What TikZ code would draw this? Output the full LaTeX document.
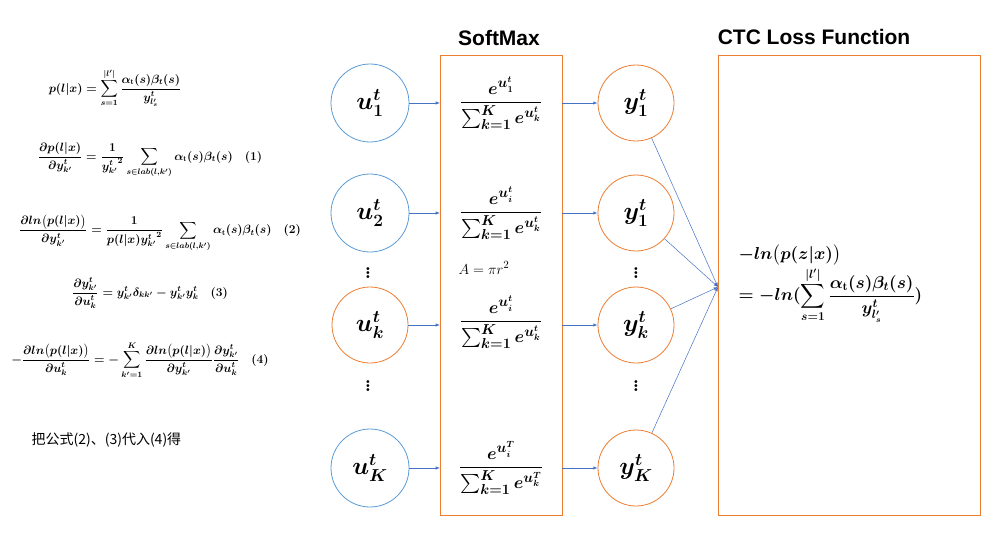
\documentclass[tikz,border=0pt]{standalone}
\usepackage{amsmath,amssymb,bm}
\usepackage{fontspec}
\setsansfont{Liberation Sans}
\newfontfamily\cjk{Noto Sans CJK SC}
\definecolor{cblue}{RGB}{91,155,213}
\definecolor{corange}{RGB}{237,125,49}
\definecolor{carrow}{RGB}{68,114,196}
\begin{document}
\begin{tikzpicture}[x=1pt,y=-1pt,
  bc/.style={circle,draw=cblue,line width=0.8pt,minimum size=78pt,inner sep=0pt,font=\fontsize{26}{30}\selectfont\boldmath},
  oc/.style={circle,draw=corange,line width=0.8pt,minimum size=76pt,inner sep=0pt,font=\fontsize{26}{30}\selectfont\boldmath},
  frame/.style={draw=corange,line width=0.8pt},
  arr/.style={-latex,draw=carrow,line width=0.5pt},
  fr/.style={font=\fontsize{19}{23}\selectfont\boldmath},
  eq/.style={font=\fontsize{12}{15}\selectfont\boldmath,anchor=center},
  ttl/.style={font=\sffamily\bfseries\fontsize{21}{24}\selectfont},
  vd/.style={font=\fontsize{20}{22}\selectfont\bfseries}]
\useasboundingbox (0,0) rectangle (1003,559);
% titles
\node[ttl] (t1) at (499,38) {SoftMax};
\node[ttl] (t2) at (814,37) {CTC Loss Function};
% boxes
\draw[frame] (440,55) rectangle (562,515);
\draw[frame] (718,55) rectangle (980,515);
\coordinate (sl1) at (440,103); \coordinate (sr1) at (562,103);
\coordinate (sl2) at (440,213); \coordinate (sr2) at (562,213);
\coordinate (sl3) at (440,325); \coordinate (sr3) at (562,325);
\coordinate (sl4) at (440,468); \coordinate (sr4) at (562,468);
\coordinate (ctc) at (718,287);
% u circles
\node[bc] (u1) at (370,103) {$u_1^t$};
\node[bc] (u2) at (370,213) {$u_2^t$};
\node[oc] (u3) at (370,325) {$u_k^t$};
\node[bc] (u4) at (370,468) {$u_K^t$};
\node[vd] (ud1) at (368,270) {$\vdots$};
\node[vd] (ud2) at (368,383) {$\vdots$};
% y circles
\node[oc] (y1) at (636,103) {$y_1^t$};
\node[oc] (y2) at (636,213) {$y_1^t$};
\node[oc] (y3) at (636,325) {$y_k^t$};
\node[oc] (y4) at (636,468) {$y_K^t$};
\node[vd] (yd1) at (636,270) {$\vdots$};
\node[vd] (yd2) at (636,383) {$\vdots$};
% softmax fractions
\node[fr] (f1) at (501,103) {$\dfrac{e^{u_1^t}}{\sum_{k=1}^{K}e^{u_k^t}}$};
\node[fr] (f2) at (501,213) {$\dfrac{e^{u_i^t}}{\sum_{k=1}^{K}e^{u_k^t}}$};
\node[fr] (f3) at (501,322) {$\dfrac{e^{u_i^t}}{\sum_{k=1}^{K}e^{u_k^t}}$};
\node[fr] (f4) at (501,468) {$\dfrac{e^{u_i^T}}{\sum_{k=1}^{K}e^{u_k^T}}$};
\node[font=\fontsize{15}{17}\selectfont] (area) at (484,268) {$A=\pi r^2$};
% arrows
\foreach \i in {1,2,3,4}{
  \draw[arr] (u\i) -- (sl\i);
  \draw[arr] (sr\i) -- (y\i);
  \draw[arr] (y\i) -- (ctc);
}
% CTC formula
\node[font=\fontsize{17}{22}\selectfont\boldmath,anchor=west] (cf1) at (735,255) {$-ln\bigl(p(z|x)\bigr)$};
\node[font=\fontsize{17}{22}\selectfont\boldmath,anchor=west] (cf2) at (735,295)
 {$=-ln(\displaystyle\sum_{s=1}^{|l'|}\frac{\alpha_{\mathrm t}(s)\beta_t(s)}{y^t_{l'_s}})$};
% left formulas
\node[eq] (e0) at (115,88) {$\displaystyle p(l|x)=\sum_{s=1}^{|l'|}\frac{\alpha_{\mathrm t}(s)\beta_t(s)}{y^t_{l'_s}}$};
\node[eq] (e1) at (150,160) {$\displaystyle\frac{\partial p(l|x)}{\partial y^t_{k'}}=\frac{1}{{y^t_{k'}}^2}\sum_{s\in lab(l,k')}\alpha_{\mathrm t}(s)\beta_t(s)\quad(1)$};
\node[eq] (e2) at (160,233) {$\displaystyle\frac{\partial ln\bigl(p(l|x)\bigr)}{\partial y^t_{k'}}=\frac{1}{p(l|x){y^t_{k'}}^2}\sum_{s\in lab(l,k')}\alpha_{\mathrm t}(s)\beta_t(s)\quad(2)$};
\node[eq] (e3) at (150,293) {$\displaystyle\frac{\partial y^t_{k'}}{\partial u^t_k}=y^t_{k'}\delta_{kk'}-y^t_{k'}y^t_k\quad(3)$};
\node[eq] (e4) at (140,360) {$\displaystyle-\frac{\partial ln\bigl(p(l|x)\bigr)}{\partial u^t_k}=-\sum_{k'=1}^{K}\frac{\partial ln\bigl(p(l|x)\bigr)}{\partial y^t_{k'}}\frac{\partial y^t_{k'}}{\partial u^t_k}\quad(4)$};
\node[font=\cjk\fontsize{14}{16}\selectfont,anchor=west] (zh) at (28,440) {把公式(2)、(3)代入(4)得};
\end{tikzpicture}
\end{document}
